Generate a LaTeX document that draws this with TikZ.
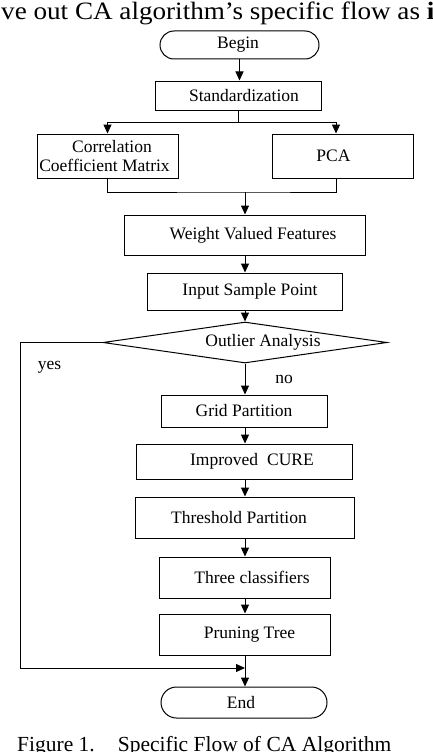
\documentclass[tikz,border=0pt]{standalone}
\usepackage{fontspec}
\setmainfont{Liberation Serif}
\usetikzlibrary{shapes.geometric,shapes.misc,arrows.meta,calc}
\begin{document}
\begin{tikzpicture}[x=1pt,y=-1pt,
  every node/.style={inner sep=0pt},
  boxfont/.style={font=\fontsize{17.5}{19.5}\selectfont},
  stepbox/.style={draw,rectangle,line width=1pt,boxfont,align=center},
  termbox/.style={draw,rounded rectangle,line width=1pt,boxfont},
  decbox/.style={draw,diamond,aspect=7,line width=1pt,boxfont},
  conn/.style={line width=1pt},
  arr/.style={line width=1pt,-{Triangle[length=9pt,width=8pt]}},
  lbl/.style={boxfont}]
\useasboundingbox (0,0) rectangle (432,752);
\clip (0,0) rectangle (432,752);
% heading line and caption
\node[anchor=base west] (head) at (1,20) {\fontsize{25}{30}\selectfont\scalebox{1.085}[1]{ve out CA algorithm's specific flow as \textbf{i}}};
\node[anchor=base west] (cap) at (17,751) {\fontsize{21.5}{26}\selectfont Figure 1.\hspace*{23pt}Specific Flow of CA Algorithm};
% nodes
\node[termbox,minimum width=159pt,minimum height=28pt] (begin) at (239.5,45) {\hspace*{-3pt}Begin};
\node[stepbox,minimum width=166pt,minimum height=29pt] (std) at (238,95.5) {\hspace*{12pt}Standardization};
\node[stepbox,minimum width=141pt,minimum height=44pt] (corr) at (107.5,156) {\hspace*{9pt}Correlation\\Coefficient Matrix\hspace*{6pt}};
\node[stepbox,minimum width=141pt,minimum height=44pt] (pca) at (342.5,156) {\hspace*{-18pt}PCA};
\node[stepbox,minimum width=241pt,minimum height=40pt] (weight) at (244.5,235) {\hspace*{17pt}Weight Valued Features};
\node[stepbox,minimum width=195pt,minimum height=37pt] (input) at (244.5,291.5) {\hspace*{11pt}Input Sample Point};
\node[decbox,minimum width=284pt,minimum height=41pt] (dia) at (245,342.5) {\hspace*{36pt}Outlier Analysis};
\node[stepbox,minimum width=166pt,minimum height=32pt] (grid) at (244,411) {Grid Partition};
\node[stepbox,minimum width=216pt,minimum height=35pt] (cure) at (244.5,461.5) {\hspace*{15pt}Improved\hspace{9pt}CURE};
\node[stepbox,minimum width=219pt,minimum height=41pt] (thr) at (244.5,517.5) {\hspace*{-11pt}Threshold Partition};
\node[stepbox,minimum width=171pt,minimum height=41pt] (three) at (244.5,577.5) {\hspace*{15pt}Three classifiers};
\node[stepbox,minimum width=171pt,minimum height=41pt] (prune) at (244.5,634.5) {\hspace*{10pt}Pruning Tree};
\node[termbox,minimum width=166pt,minimum height=31pt] (end) at (244,702.5) {\hspace*{-6pt}End};
% labels
\node[lbl] (yes) at (49.5,367) {yes};
\node[lbl] (no) at (284,379) {no};
% coordinates
\coordinate (split) at (238,122);
\coordinate (merge) at (245,192);
\coordinate (join) at (245,668);
% connectors
\draw[arr] (begin.south) -- (begin.south |- std.north);
\draw[conn] (std.south) -- (split);
\draw[arr] (split) -| (corr.north);
\draw[arr] (split) -| ([xshift=-6.5pt]pca.north);
\draw[conn] (corr.south) |- (merge) -| ([xshift=-6.5pt]pca.south);
\draw[arr] (merge) -- (merge |- weight.north);
\draw[arr] (weight.south -| merge) -- (merge |- input.north);
\draw[arr] (input.south -| merge) -- (dia.north);
\draw[arr] (dia.south) -- (dia.south |- grid.north);
\draw[arr] (grid.south -| merge) -- (merge |- cure.north);
\draw[arr] (cure.south -| merge) -- (merge |- thr.north);
\draw[arr] (thr.south -| merge) -- (merge |- three.north);
\draw[arr] (three.south -| merge) -- (merge |- prune.north);
\draw[arr] (prune.south -| merge) -- (merge |- end.north);
\draw[arr] (dia.west) -- ++(-82,0) |- (join);
\end{tikzpicture}
\end{document}
